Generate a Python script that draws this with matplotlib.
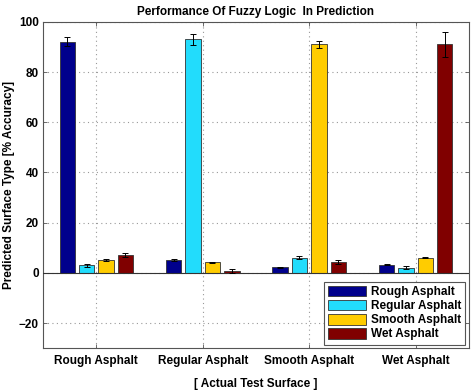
import matplotlib.pyplot as plt
import numpy as np

# actual test surface (x groups) and predicted class (series)
surfaces = ['Rough Asphalt', 'Regular Asphalt', 'Smooth Asphalt', 'Wet Asphalt']

rough_pred = [92.2, 5.2, 2.2, 3.2]
regular_pred = [3.0, 93.1, 6.1, 2.1]
smooth_pred = [5.1, 4.2, 91.1, 6.1]
wet_pred = [7.1, 0.8, 4.3, 91.1]

rough_err = [1.9, 0.3, 0.2, 0.2]
regular_err = [0.5, 2.2, 0.5, 0.5]
smooth_err = [0.3, 0.3, 1.5, 0.3]
wet_err = [0.7, 0.8, 0.9, 4.9]

series = [
    ('Rough Asphalt', rough_pred, rough_err, '#00008c'),
    ('Regular Asphalt', regular_pred, regular_err, '#22dcfc'),
    ('Smooth Asphalt', smooth_pred, smooth_err, '#ffcc00'),
    ('Wet Asphalt', wet_pred, wet_err, '#800000'),
]

plt.rcParams['font.family'] = ['Liberation Sans', 'DejaVu Sans']
plt.rcParams['font.weight'] = 'bold'

fig = plt.figure(figsize=(4.74, 3.92), dpi=100)
ax = fig.add_axes([0.091, 0.112, 0.898, 0.832])

x = np.arange(1, len(surfaces) + 1)
step = 0.182
width = 0.145
for i, (name, vals, errs, color) in enumerate(series):
    pos = x + (i - 1.5) * step
    ax.bar(pos, vals, width, color=color, edgecolor='#333333', linewidth=0.6,
           label=name, zorder=3)
    ax.errorbar(pos, vals, yerr=errs, fmt='none', ecolor='black',
                elinewidth=0.7, capsize=2.5, capthick=0.7, zorder=4)

ax.axhline(0, color='#333333', linewidth=0.8, zorder=3)

ax.set_xlim(0.5, 4.5)
ax.set_ylim(-30, 100)
ax.set_xticks(x)
ax.set_xticklabels(surfaces, fontsize=8.5, fontweight='bold')
ax.set_yticks([-20, 0, 20, 40, 60, 80, 100])
ax.set_yticklabels(['\u221220', '0', '20', '40', '60', '80', '100'],
                   fontsize=8.5, fontweight='bold')
ax.tick_params(direction='in', length=3, width=0.6, color='#555555', pad=3,
               top=True, right=True)
ax.tick_params(axis='x', pad=5)

ax.grid(True, linestyle=(0, (1, 3)), color='#999999', linewidth=0.8, zorder=0)
for s in ax.spines.values():
    s.set_color('#555555')
    s.set_linewidth(0.8)

ax.set_title('Performance Of Fuzzy Logic  In Prediction', fontsize=8.5,
             fontweight='bold', pad=5)
ax.set_ylabel('Predicted Surface Type [% Accuracy]', fontsize=8.5,
              fontweight='bold', labelpad=3)
ax.set_xlabel('[ Actual Test Surface ]', fontsize=8.5, fontweight='bold',
              labelpad=8)

leg = ax.legend(loc='lower right', fontsize=8.5, handlelength=3.2,
                handleheight=1.0, handletextpad=0.4, labelspacing=0.15,
                borderpad=0.35, borderaxespad=0.3, fancybox=False,
                edgecolor='#555555', framealpha=1)
leg.get_frame().set_linewidth(0.8)
for t in leg.get_texts():
    t.set_fontweight('bold')

fig.savefig('out.png', dpi=100)
